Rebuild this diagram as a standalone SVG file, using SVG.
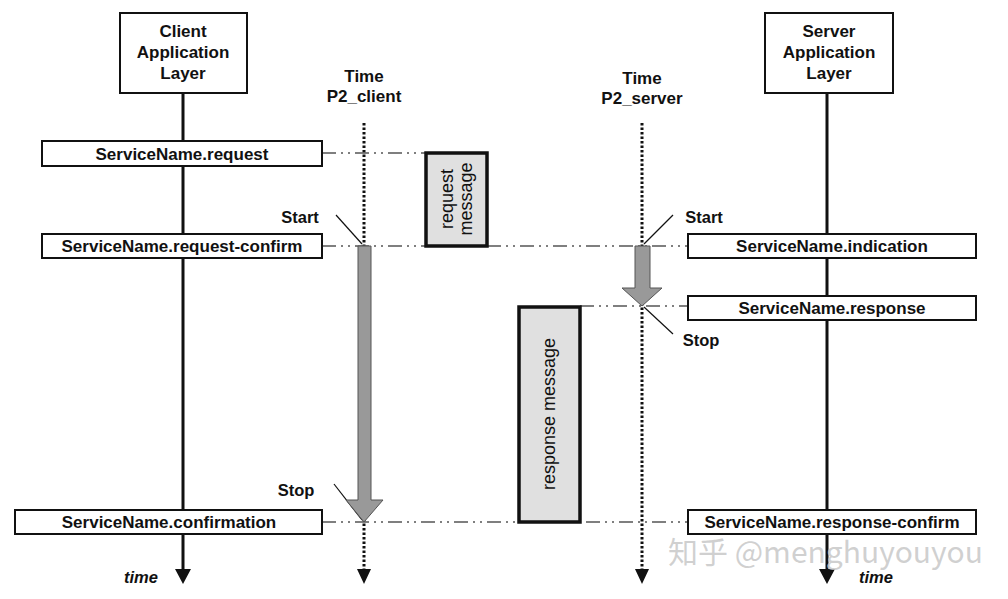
<svg xmlns="http://www.w3.org/2000/svg" width="1008" height="599" viewBox="0 0 1008 599">
<defs>
<style>
.t{font-family:"Liberation Sans",Arial,sans-serif;font-weight:bold;fill:#111;}
.r{font-family:"Liberation Sans",Arial,sans-serif;font-weight:normal;fill:#111;}
.box{fill:#fff;stroke:#111;stroke-width:2;}
.msg{fill:#e0e0e0;stroke:#111;stroke-width:3.5;}
.life{stroke:#111;stroke-width:3;fill:none;}
.dot{stroke:#111;stroke-width:3;stroke-dasharray:2.5 2;fill:none;}
.dd{stroke:#555;stroke-width:1.6;stroke-dasharray:14 5 2 5 2 5;fill:none;}
.lead{stroke:#111;stroke-width:1.2;fill:none;}
.bar{fill:#999;stroke:#555;stroke-width:1;}
.head{fill:#111;}
</style>
</defs>
<rect width="1008" height="599" fill="#fff"/>

<g id="lifelines">
<line class="life" x1="183" y1="93" x2="183" y2="572"/>
<polygon class="head" points="175,569 191,569 183,584"/>
<line class="life" x1="827" y1="93" x2="827" y2="572"/>
<polygon class="head" points="819,569 835,569 827,584"/>
<line class="dot" x1="364" y1="123" x2="364" y2="572"/>
<polygon class="head" points="357,569 371,569 364,584"/>
<line class="dot" x1="642" y1="123" x2="642" y2="572"/>
<polygon class="head" points="635,569 649,569 642,584"/>
</g>

<g id="connectors">
<line class="dd" x1="322" y1="153" x2="425" y2="153"/>
<line class="dd" x1="322" y1="246" x2="688" y2="246"/>
<line class="dd" x1="580" y1="306" x2="688" y2="306"/>
<line class="dd" x1="322" y1="522" x2="688" y2="522"/>
<line class="lead" x1="336" y1="215" x2="362" y2="244"/>
<line class="lead" x1="673" y1="215" x2="644" y2="244"/>
<line class="lead" x1="644" y1="307" x2="673" y2="334"/>
<line class="lead" x1="334" y1="484" x2="362" y2="520"/>
</g>

<g id="client-layer">
<rect class="box" x="120" y="13" width="127" height="80"/>
<text class="t" font-size="17" text-anchor="middle"><tspan x="183" y="37">Client</tspan><tspan x="183" y="58">Application</tspan><tspan x="183" y="79">Layer</tspan></text>
</g>
<g id="server-layer">
<rect class="box" x="765" y="13" width="128" height="80"/>
<text class="t" font-size="17" text-anchor="middle"><tspan x="829" y="37">Server</tspan><tspan x="829" y="58">Application</tspan><tspan x="829" y="79">Layer</tspan></text>
</g>
<g id="time-client">
<text class="t" font-size="17" text-anchor="middle"><tspan x="364" y="82">Time</tspan><tspan x="364" y="102">P2_client</tspan></text>
</g>
<g id="time-server">
<text class="t" font-size="17" text-anchor="middle"><tspan x="642" y="84">Time</tspan><tspan x="642" y="104">P2_server</tspan></text>
</g>

<g id="req">
<rect class="box" x="42" y="141" width="280" height="25"/>
<text class="t" font-size="17" x="182" y="159.5" text-anchor="middle">ServiceName.request</text>
</g>
<g id="req-confirm">
<rect class="box" x="42" y="234" width="280" height="24"/>
<text class="t" font-size="17" x="182" y="252" text-anchor="middle">ServiceName.request-confirm</text>
</g>
<g id="confirmation">
<rect class="box" x="15" y="510" width="307" height="24"/>
<text class="t" font-size="17" x="169" y="528" text-anchor="middle">ServiceName.confirmation</text>
</g>
<g id="indication">
<rect class="box" x="688" y="234" width="288" height="24"/>
<text class="t" font-size="17" x="832" y="252" text-anchor="middle">ServiceName.indication</text>
</g>
<g id="response">
<rect class="box" x="688" y="296" width="288" height="24"/>
<text class="t" font-size="17" x="832" y="314" text-anchor="middle">ServiceName.response</text>
</g>
<g id="response-confirm">
<rect class="box" x="688" y="510" width="288" height="24"/>
<text class="t" font-size="17" x="832" y="528" text-anchor="middle">ServiceName.response-confirm</text>
</g>

<g id="request-message">
<rect class="msg" x="426" y="153" width="61" height="93"/>
<text class="r" font-size="18" text-anchor="middle" transform="translate(456 199) rotate(-90)"><tspan x="0" y="-3">request</tspan><tspan x="0" y="16">message</tspan></text>
</g>
<g id="response-message">
<rect class="msg" x="519" y="307" width="61" height="215"/>
<text class="r" font-size="18" text-anchor="middle" transform="translate(555 414) rotate(-90)" x="0" y="0">response message</text>
</g>

<g id="client-timer">
<path class="bar" d="M358,246 H371 V500 H383 L364,522 L346,500 H358 Z"/>
<text class="t" font-size="16.5" x="300" y="223" text-anchor="middle">Start</text>
<text class="t" font-size="16.5" x="296" y="496" text-anchor="middle">Stop</text>
</g>
<g id="server-timer">
<path class="bar" d="M635,246 H650 V288 H662 L642,306 L622,288 H635 Z"/>
<text class="t" font-size="16.5" x="704" y="223" text-anchor="middle">Start</text>
<text class="t" font-size="16.5" x="701" y="346" text-anchor="middle">Stop</text>
</g>

<g id="time-labels">
<text class="t" font-size="16.5" font-style="italic" x="141" y="583" text-anchor="middle">time</text>
<text class="t" font-size="16.5" font-style="italic" x="876" y="583" text-anchor="middle">time</text>
</g>

<g id="watermark">
<text x="668" y="563" font-family="'Noto Sans CJK SC','Liberation Sans',sans-serif" font-size="30" fill="#c8c8c8" fill-opacity="0.85">知乎 @menghuyouyou</text>
</g>
</svg>
